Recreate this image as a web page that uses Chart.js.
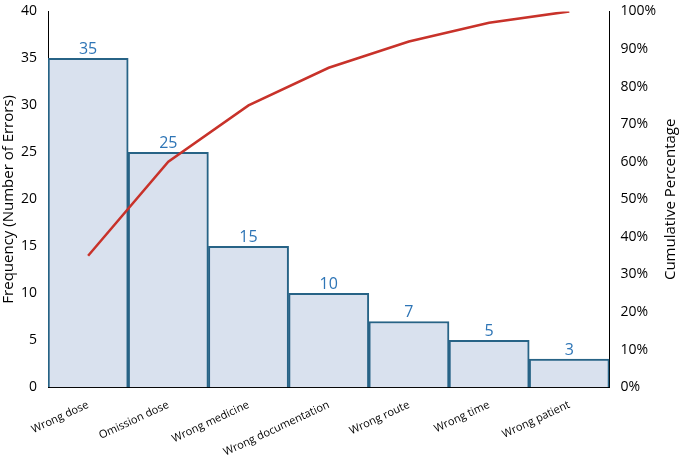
<!DOCTYPE html>
<html><head><meta charset="utf-8">
<script src="https://cdn.jsdelivr.net/npm/chart.js@4"></script>
<style>html,body{margin:0;padding:0;background:#fff}#w{width:685px;height:462px}</style>
</head><body><div id="w"><canvas id="c"></canvas></div>
<script>
const categories=["Wrong dose","Omission dose","Wrong medicine","Wrong documentation","Wrong route","Wrong time","Wrong patient"];
const frequency=[35,25,15,10,7,5,3];
const cumulative=[35,60,75,85,92,97,100];
const labelPlugin={id:'lbl',afterDatasetsDraw(ch){const m=ch.getDatasetMeta(1);const c=ch.ctx;c.save();c.fillStyle='#2e75b6';c.font='16px "Open Sans"';c.textAlign='center';c.textBaseline='bottom';
m.data.forEach((b,i)=>c.fillText(frequency[i],b.x,b.y-1));
const s=ch.scales.y2;c.fillStyle='#000';c.font='15px "Open Sans"';c.textBaseline='middle';c.translate(ch.width-14,(s.top+s.bottom)/2);c.rotate(-Math.PI/2);c.fillText('Cumulative Percentage',0,0);
c.restore();}};
new Chart(document.getElementById('c'),{
data:{labels:categories,datasets:[
{type:'line',data:cumulative,yAxisID:'y2',borderColor:'#c8322a',borderWidth:2.5,pointRadius:0,tension:0,order:0},
{type:'bar',data:frequency,yAxisID:'y',backgroundColor:'#d9e1ee',borderColor:'#276386',borderWidth:2,categoryPercentage:1,barPercentage:1,order:1}
]},
options:{responsive:true,maintainAspectRatio:false,animation:false,
layout:{padding:{top:6,right:26,left:0,bottom:0}},
plugins:{legend:{display:false},tooltip:{enabled:false}},
scales:{
x:{grid:{display:false},border:{color:'#000'},ticks:{color:'#000',font:{family:'Open Sans',size:11},maxRotation:25,minRotation:25,autoSkip:false}},
y:{min:0,max:40,ticks:{stepSize:5,color:'#000',font:{family:'Open Sans',size:14}},grid:{display:false},border:{color:'#000'},title:{display:true,text:'Frequency (Number of Errors)',color:'#000',padding:0,font:{family:'Open Sans',size:15}}},
y2:{position:'right',min:0,max:100,ticks:{stepSize:10,color:'#000',callback:v=>v+'%',font:{family:'Open Sans',size:14}},grid:{display:false},border:{color:'#000'}}
}},plugins:[labelPlugin]});
</script></body></html>
